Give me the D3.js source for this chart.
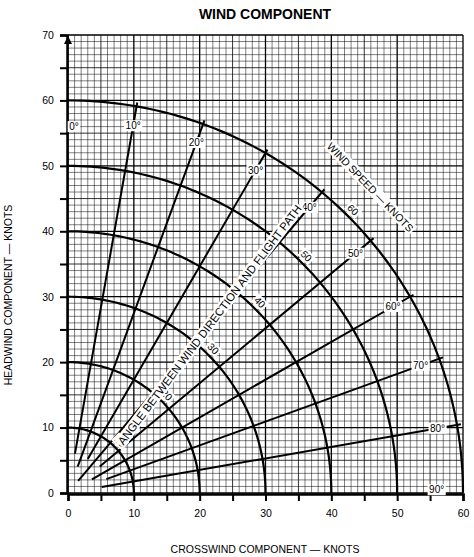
<!DOCTYPE html>
<html>
<script src="https://cdn.jsdelivr.net/npm/d3@7"></script>
<style>
  body{ margin: 0; background: #fff; }
  text{ font-family: "Liberation Sans", Arial, sans-serif; }
</style>
<body>
<script>
var speeds = [10, 20, 30, 40, 50, 60]
  , angles = [10, 20, 30, 40, 50, 60, 70, 80]
  , startRadius = [6.1, 4.3, 6, 2.4, 6.3, 4.2, 6.2, 5.2]
  , xTicks = [0, 10, 20, 30, 40, 50, 60]
  , yTicks = [0, 10, 20, 30, 40, 50, 60, 70]

var W = 474, H = 557
var x = d3.scaleLinear().domain([0, 60]).range([68, 463])
  , y = d3.scaleLinear().domain([0, 70]).range([493, 35])

var svg = d3.select('body').append('svg').attr('width', W).attr('height', H)

// grid
var g = svg.append('g')
d3.range(0, 61).forEach(function(v){
  g.append('line').attr('x1', x(v)).attr('x2', x(v)).attr('y1', y(0)).attr('y2', y(70))
    .attr('stroke', '#000').attr('stroke-width', v % 10 === 0 ? 1.3 : (v % 5 === 0 ? 0.8 : 0.5))
})
d3.range(0, 71).forEach(function(v){
  g.append('line').attr('x1', x(0)).attr('x2', x(60)).attr('y1', y(v)).attr('y2', y(v))
    .attr('stroke', '#000').attr('stroke-width', v % 10 === 0 ? 1.3 : (v % 5 === 0 ? 0.8 : 0.5))
})

// axes
svg.append('g').attr('transform', 'translate(0,' + (y(0) + 1) + ')')
  .call(d3.axisBottom(x).tickValues(d3.range(0, 61, 5)).tickSize(7).tickFormat(function(d){ return xTicks.indexOf(d) >= 0 ? d : '' }))
  .call(function(a){ a.select('.domain').attr('stroke-width', 2.5); a.selectAll('line').attr('stroke-width', 2); a.selectAll('text').attr('font-size', 10.5).attr('dy', '1.2em') })
svg.append('g').attr('transform', 'translate(' + (x(0) - 1) + ',0)')
  .call(d3.axisLeft(y).tickValues(d3.range(0, 71, 5)).tickSize(7).tickFormat(function(d){ return yTicks.indexOf(d) >= 0 ? d : '' }))
  .call(function(a){ a.select('.domain').attr('stroke-width', 2.5); a.selectAll('line').attr('stroke-width', 2); a.selectAll('text').attr('font-size', 10.5).attr('dx', '-0.3em') })
// y arrow
svg.append('path').attr('d', 'M' + (x(0) - 4) + ',' + (y(70) + 9) + 'L' + x(0) + ',' + (y(70) + 1) + 'L' + (x(0) + 4) + ',' + (y(70) + 9) + 'Z')

function px(r, a){ return x(r * Math.sin(a * Math.PI / 180)) }
function py(r, a){ return y(r * Math.cos(a * Math.PI / 180)) }

// speed arcs
var arcLine = d3.line().x(function(d){ return px(d[0], d[1]) }).y(function(d){ return py(d[0], d[1]) })
speeds.forEach(function(s){
  svg.append('path').attr('d', arcLine(d3.range(0, 90.5, 1).map(function(a){ return [s, a] })))
    .attr('fill', 'none').attr('stroke', '#000').attr('stroke-width', 2.2)
})

// angle lines
angles.forEach(function(a, i){
  svg.append('line').attr('x1', px(startRadius[i], a)).attr('y1', py(startRadius[i], a))
    .attr('x2', px(60.6, a)).attr('y2', py(60.6, a)).attr('stroke', '#000').attr('stroke-width', 2)
})

function label(t, cx, cy, rot, size, bold){
  var gg = svg.append('g').attr('transform', 'translate(' + cx + ',' + cy + ') rotate(' + rot + ')')
  var tx = gg.append('text').attr('text-anchor', 'middle').attr('dy', '0.35em')
    .attr('font-size', size).attr('font-weight', bold ? 'bold' : 'normal').text(t)
  var b = tx.node().getBBox()
  gg.insert('rect', 'text').attr('x', b.x - 1.5).attr('y', b.y).attr('width', b.width + 3).attr('height', b.height).attr('fill', '#fff')
}

angles.forEach(function(a){ label(a + '°', px(57, a), py(57, a), 0, 10) })
label('0°', x(0.9), y(56), 0, 10)
label('90°', x(56), y(0.5), 0, 10)
speeds.forEach(function(s){ label(s, px(s + 1.2, 45), py(s + 1.2, 45), 45, 10) })
label('WIND SPEED — KNOTS', px(65.5, 44.5), py(65.5, 44.5), 46, 10.5)
label('ANGLE BETWEEN WIND DIRECTION AND FLIGHT PATH', x(21.5), y(25.7), -53, 11.3)

svg.append('text').attr('x', 265).attr('y', 19).attr('text-anchor', 'middle')
  .attr('font-size', 14).attr('font-weight', 'bold').text('WIND COMPONENT')
svg.append('text').attr('x', 265).attr('y', 553).attr('text-anchor', 'middle')
  .attr('font-size', 10.5).text('CROSSWIND COMPONENT — KNOTS')
svg.append('text').attr('transform', 'translate(12,' + 295 + ') rotate(-90)').attr('text-anchor', 'middle')
  .attr('font-size', 10.5).text('HEADWIND COMPONENT — KNOTS')
</script>
</body>
</html>
